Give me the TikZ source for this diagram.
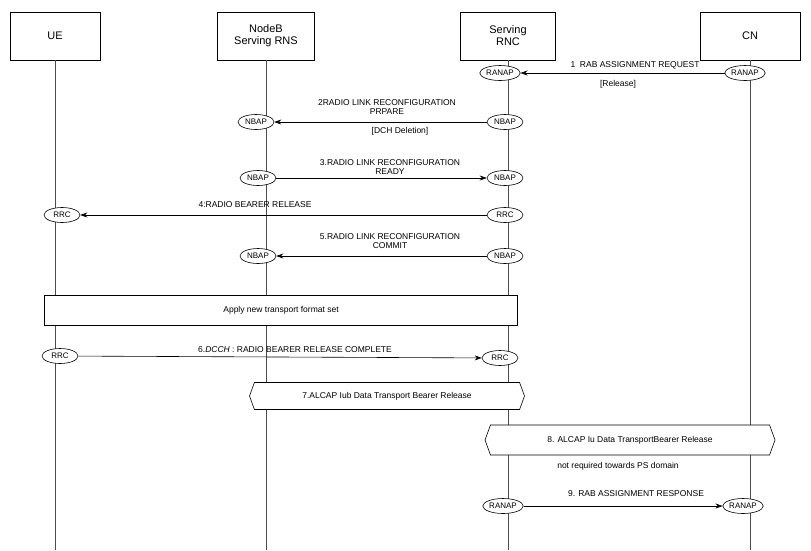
\documentclass[tikz,border=0pt]{standalone}
\usepackage{fontspec}
\setmainfont{Liberation Sans}
\usetikzlibrary{shapes.geometric,shapes.symbols,arrows.meta}
\begin{document}
\begin{tikzpicture}[x=1pt,y=-1pt,line width=0.6pt,
  hdr/.style={draw,minimum height=48pt,align=center,font=\fontsize{11}{12}\selectfont},
  proto/.style={draw,ellipse,inner sep=0.5pt,minimum width=36pt,minimum height=15pt,fill=white,font=\fontsize{8}{9}\selectfont},
  msg/.style={-{Stealth[length=7pt,width=5pt]}},
  lbl/.style={font=\fontsize{8.5}{9.5}\selectfont,align=center,inner sep=0.5pt},
  life/.style={gray!60!black},
  hexa/.style={draw,signal,signal to=east and west,signal pointer angle=140,fill=white,font=\fontsize{8.5}{9.5}\selectfont,minimum height=27pt}]
\useasboundingbox (0,0) rectangle (811,550);
\fill[white] (0,0) rectangle (811,550);
\node[hdr,minimum width=90pt] (ue) at (55,36) {UE};
\node[hdr,minimum width=97pt] (nb) at (266,36) {NodeB\\Serving RNS};
\node[hdr,minimum width=95pt] (rnc) at (508,36) {Serving\\RNC};
\node[hdr,minimum width=100pt] (cn) at (750,36) {CN};
\coordinate (ueb) at (55,550); \coordinate (nbb) at (266,550);
\coordinate (rncb) at (508,550); \coordinate (cnb) at (750,550);
\draw[life] (ue.south) -- (ueb); \draw[life] (nb.south) -- (nbb);
\draw[life] (rnc.south) -- (rncb); \draw[life] (cn.south) -- (cnb);
% 1
\node[proto] (r1a) at (500,73) {RANAP};
\node[proto] (r1b) at (745,73) {RANAP};
\draw[msg] (r1b) -- (r1a);
\node[lbl] (l1) at (635,65) {1\ \ RAB ASSIGNMENT REQUEST};
\node[lbl] (l1b) at (618,84) {[Release]};
% 2
\node[proto] (n2a) at (256,122) {NBAP};
\node[proto] (n2b) at (505,122) {NBAP};
\draw[msg] (n2b) -- (n2a);
\node[lbl] (l2) at (387,107) {2RADIO LINK RECONFIGURATION\\PRPARE};
\node[lbl] (l2b) at (400,131) {[DCH Deletion]};
% 3
\node[proto] (n3a) at (258,178) {NBAP};
\node[proto] (n3b) at (505,178) {NBAP};
\draw[msg] (n3a) -- (n3b);
\node[lbl] (l3) at (390,167) {3.RADIO LINK RECONFIGURATION\\READY};
% 4
\node[proto] (c4a) at (62,215) {RRC};
\node[proto] (c4b) at (505,215) {RRC};
\draw[msg] (c4b) -- (c4a);
\node[lbl] (l4) at (255,205) {4:RADIO BEARER RELEASE};
% 5
\node[proto] (n5a) at (258,256) {NBAP};
\node[proto] (n5b) at (505,256) {NBAP};
\draw[msg] (n5b) -- (n5a);
\node[lbl] (l5) at (390,241) {5.RADIO LINK RECONFIGURATION\\COMMIT};
% apply
\node[draw,fill=white,minimum width=473pt,minimum height=30pt,font=\fontsize{8.5}{9.5}\selectfont] (ap) at (281,310) {Apply new transport format set};
% 6
\node[proto] (c6a) at (60,356) {RRC};
\node[proto] (c6b) at (500,358) {RRC};
\draw[msg] (c6a) -- (c6b);
\node[lbl] (l6) at (295,350) {6.\textit{DCCH} : RADIO BEARER RELEASE COMPLETE};
% 7
\node[hexa,minimum width=275pt] (h7) at (387,396) {7.ALCAP Iub Data Transport Bearer Release};
% 8
\node[hexa,minimum width=290pt,minimum height=30pt] (h8) at (630,440) {8. ALCAP Iu Data TransportBearer Release};
\node[lbl] (l8) at (618,466) {not required towards PS domain};
% 9
\node[proto] (r9a) at (503,506) {RANAP};
\node[proto] (r9b) at (743,506) {RANAP};
\draw[msg] (r9a) -- (r9b);
\node[lbl] (l9) at (636,494) {9. RAB ASSIGNMENT RESPONSE};
\end{tikzpicture}
\end{document}
